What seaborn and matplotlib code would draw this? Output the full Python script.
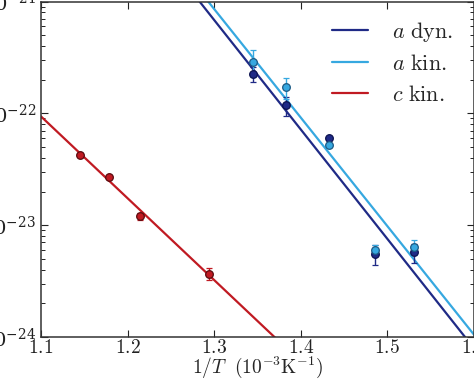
import numpy as np
import pandas as pd
import seaborn as sns
import matplotlib
matplotlib.use("Agg")
import matplotlib.pyplot as plt
from matplotlib.ticker import FuncFormatter, LogLocator, LogFormatterSciNotation

# data (x in 1e-3 K^-1)
x_a = [1.345, 1.383, 1.433, 1.486, 1.531]
a_dyn = [2.25e-22, 1.18e-22, 6.0e-23, 5.5e-24, 5.7e-24]
a_dyn_err = [0.36e-22, 0.23e-22, 0.2e-23, 1.1e-24, 1.1e-24]
a_kin = [2.88e-22, 1.71e-22, 5.2e-23, 6.0e-24, 6.4e-24]
a_kin_err = [0.78e-22, 0.36e-22, 0.15e-23, 0.6e-24, 0.95e-24]

x_c = [1.145, 1.1785, 1.214, 1.2936]
c_kin = [4.28e-23, 2.72e-23, 1.20e-23, 3.67e-24]
c_kin_err = [0.1e-23, 0.06e-23, 0.08e-23, 0.45e-24]

# Arrhenius fits: log10(y) = intercept + slope * x
fit_labels = [r"$a\ \mathrm{dyn.}$", r"$a\ \mathrm{kin.}$", r"$c\ \mathrm{kin.}$"]
fit_slope = [-9.786, -9.706, -7.317]
fit_intercept = [-8.444, -8.450, -13.979]

colors = ["#1f2a86", "#36a8e0", "#c01a22"]
edge_colors = ["#0c1250", "#1b5a84", "#5a0a0e"]

sns.set_style("ticks")
plt.rcParams["mathtext.fontset"] = "cm"
plt.rcParams["font.family"] = ["DejaVu Serif"]

fig = plt.figure(figsize=(4.74, 3.8), dpi=100)
ax = fig.add_axes([41 / 474, 43 / 380, 1 - 41 / 474, 1 - 43 / 380 - 1.5 / 380])

xs = np.linspace(1.1, 1.6, 200)
rows = []
for lab, s, b in zip(fit_labels, fit_slope, fit_intercept):
    for x in xs:
        rows.append({"x": x, "y": 10 ** (b + s * x), "fit": lab})
df = pd.DataFrame(rows)
sns.lineplot(data=df, x="x", y="y", hue="fit", hue_order=fit_labels,
             palette=dict(zip(fit_labels, colors)), estimator=None,
             linewidth=1.6, ax=ax)

series = [(x_a, a_dyn, a_dyn_err, 0), (x_a, a_kin, a_kin_err, 1), (x_c, c_kin, c_kin_err, 2)]
for xv, yv, ev, i in series:
    ax.errorbar(xv, yv, yerr=ev, fmt="o", color=colors[i], markersize=5.5,
                markeredgecolor=edge_colors[i], markeredgewidth=0.9,
                ecolor=colors[i], elinewidth=1.0, capsize=2.5, zorder=3)

ax.set_yscale("log")
ax.set_xlim(1.1, 1.6)
ax.set_ylim(1e-24, 1e-21)
ax.xaxis.set_major_formatter(FuncFormatter(lambda v, p: f"${v:.1f}$"))
ax.yaxis.set_major_locator(LogLocator(base=10))
ax.yaxis.set_minor_locator(LogLocator(base=10, subs=np.arange(2, 10)))
ax.yaxis.set_major_formatter(LogFormatterSciNotation())

ax.tick_params(which="both", direction="in", top=True, right=True,
               labelsize=14, colors="#222222")
ax.tick_params(which="major", length=5, width=0.8)
ax.tick_params(which="minor", length=2.8, width=0.7)
ax.tick_params(axis="x", which="major", pad=1.5)
for sp in ax.spines.values():
    sp.set_linewidth(1.1)
    sp.set_color("#333333")

ax.set_xlabel(r"$1/T\ \ (10^{-3}\mathrm{K}^{-1})$", fontsize=14, labelpad=-2)
ax.set_ylabel("")

leg = ax.legend(loc="upper right", bbox_to_anchor=(0.993, 0.998), frameon=False,
                fontsize=16, handlelength=1.6, handletextpad=1.1, labelspacing=0.4,
                borderpad=0.3)
for line in leg.get_lines():
    line.set_linewidth(1.6)

fig.savefig("out.png", dpi=100)
